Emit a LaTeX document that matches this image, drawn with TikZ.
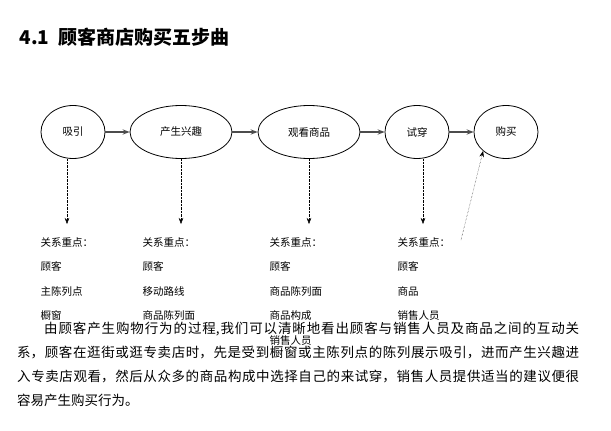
\documentclass[tikz,border=0pt]{standalone}
\usepackage{fontspec}
\newfontfamily\cjk{Noto Sans CJK SC}
\usetikzlibrary{arrows.meta,positioning,shapes.geometric}
\XeTeXlinebreaklocale "zh"
\XeTeXlinebreakskip=0pt plus 1pt
\tikzset{
  phase/.style={draw, thick, ellipse, minimum height=53pt, font=\cjk\fontsize{10.5}{12}\selectfont},
  flow/.style={-{Stealth[length=7pt]}, line width=1.6pt, gray!60!black},
  down/.style={-{Stealth[length=6pt]}, densely dotted, thin},
  note/.style={anchor=north west, align=left, font=\cjk\fontsize{10.5}{24.5}\selectfont}
}
\begin{document}
\begin{tikzpicture}[x=1pt,y=1pt]
\useasboundingbox (0,0) rectangle (611,-431);
% title
\node[anchor=west, font=\cjk\bfseries\fontsize{19}{22}\selectfont] (title) at (16,-37) {4.1\ \ 顾客商店购买五步曲};
% phases
\node[phase, minimum width=64pt] (attract) at (73,-132) {吸引};
\node[phase, minimum width=102pt] (interest) at (181,-132) {产生兴趣};
\node[phase, minimum width=102pt] (view) at (309,-132) {观看商品};
\node[phase, minimum width=64pt] (try) at (417,-132) {试穿};
\node[phase, minimum width=64pt] (buy) at (506,-132) {购买};
\foreach \a/\b in {attract/interest, interest/view, view/try, try/buy}
  \draw[flow] (\a) -- (\b);
% key points
\coordinate (d1) at (67,-224);
\coordinate (d2) at (181,-224);
\coordinate (d3) at (309,-224);
\coordinate (d4) at (423,-224);
\draw[down] (d1 |- attract.south) -- (d1);
\draw[down] (interest.south) -- (d2);
\draw[down] (view.south) -- (d3);
\draw[down] (d4 |- try.south) -- (d4);
\node[note] (n1) at (37,-234) {关系重点：\\顾客\\主陈列点\\橱窗};
\node[note] (n2) at (139,-234) {关系重点：\\顾客\\移动路线\\商品陈列面};
\node[note] (n3) at (266,-234) {关系重点：\\顾客\\商品陈列面\\商品构成\\销售人员};
\node[note] (n4) at (394,-234) {关系重点：\\顾客\\商品\\销售人员};
\coordinate (up) at (461,-240);
\draw[down] (up) -- (buy.south west);
% paragraph
\node[anchor=north west, text width=562pt, align=justify, inner sep=0pt,
  font=\cjk\fontsize{13.5}{24}\selectfont] (para) at (17,-322)
  {\hspace*{27pt}由顾客产生购物行为的过程,我们可以清晰地看出顾客与销售人员及商品之间的互动关\linebreak
  系，顾客在逛街或逛专卖店时，先是受到橱窗或主陈列点的陈列展示吸引，进而产生兴趣进\linebreak
  入专卖店观看，然后从众多的商品构成中选择自己的来试穿，销售人员提供适当的建议便很\linebreak
  容易产生购买行为。};
\end{tikzpicture}
\end{document}
